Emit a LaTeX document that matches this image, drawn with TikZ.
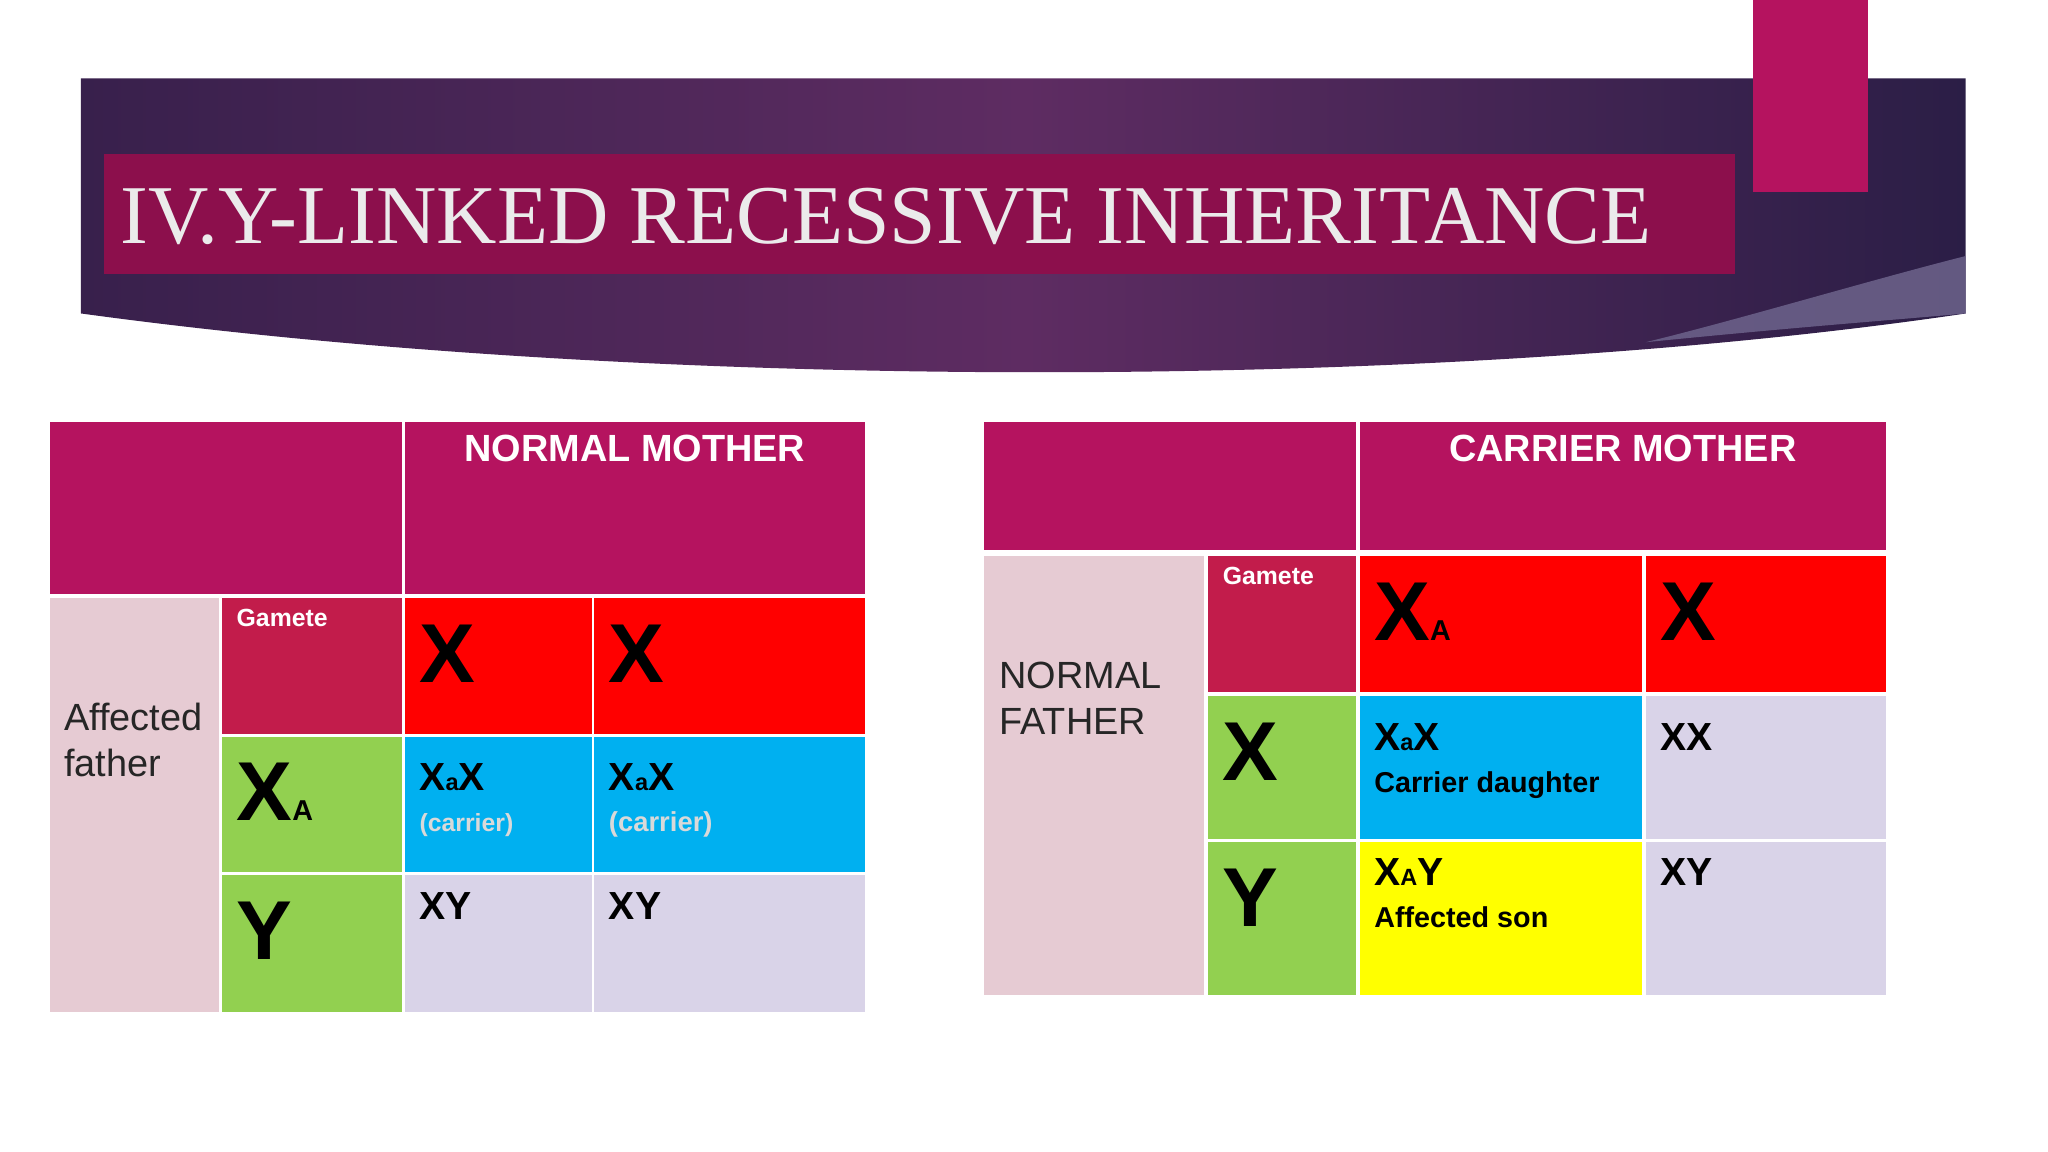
\documentclass[tikz,border=0pt]{standalone}
\usepackage{fontspec}
\setmainfont{Liberation Sans}
\newfontfamily\seriff{Liberation Serif}
\definecolor{mag}{HTML}{B5135F}
\definecolor{titlebg}{HTML}{8C0F4C}
\definecolor{gam}{HTML}{C21C4B}
\definecolor{redc}{HTML}{FF0000}
\definecolor{grn}{HTML}{92D050}
\definecolor{blu}{HTML}{00B0F0}
\definecolor{lav}{HTML}{D9D3E8}
\definecolor{pnk}{HTML}{E6CBD3}
\definecolor{yel}{HTML}{FFFF00}
\definecolor{banL}{HTML}{38204C}
\definecolor{banM}{HTML}{5E2C62}
\definecolor{banR}{HTML}{2B1E46}
\definecolor{sweep}{HTML}{6A6088}
\newcommand\fs[1]{\fontsize{#1}{#1}\selectfont}
\newcommand\cellbox[6]{\node[fill=#6,inner sep=0,outer sep=0,minimum width={(#4)-(#2)},minimum height={(#5)-(#3)}] (#1) at ({((#2)+(#4))/2},{((#3)+(#5))/2}) {};}
\tikzset{txt/.style={anchor=north west,inner sep=0,align=left,font=\bfseries},
 big/.style={txt,font=\bfseries\fs{64}},
 mid/.style={txt,font=\bfseries\fs{30}},
 head/.style={anchor=north,inner sep=0,text=white,font=\bfseries\fs{29}},
 side/.style={anchor=north west,inner sep=0,align=left,font=\fontsize{29}{35}\selectfont,text=black!85}}
\begin{document}
\begin{tikzpicture}[x=1pt,y=-1pt]
\useasboundingbox (0,0) rectangle (1568,882);
\fill[white] (0,0) rectangle (1568,882);
% banner
\shade[left color=banL, right color=banR, middle color=banM]
 (62,60) -- (1505,60) -- (1505,240) .. controls (1100,300) and (500,300) .. (62,240) -- cycle;
\fill[sweep, opacity=0.9] (1505,196) .. controls (1430,215) and (1330,245) .. (1260,262) .. controls (1380,250) and (1450,245) .. (1505,240) -- cycle;
\node[fill=titlebg,inner sep=0,minimum width=1248,minimum height=92] (title) at (704,164) {};
\node[anchor=west,text=white!92!black,inner sep=0,font=\seriff\fs{64}] (tt) at (92,166) {IV.Y-LINKED RECESSIVE INHERITANCE};
\node[fill=mag,inner sep=0,minimum width=88,minimum height=147] (tab) at (1386,73.5) {};
% left table
\cellbox{lh1}{38}{323}{308}{455}{mag}
\cellbox{lh2}{310}{323}{662}{455}{mag}
\node[head] at ([yshift=-10]lh2.north) {NORMAL MOTHER};
\cellbox{lf}{38}{458}{168}{775}{pnk}
\node[side] at ([shift={(11,80)}]lf.north west) {Affected\\father};
\cellbox{lg}{170}{458}{308}{562}{gam}
\node[txt,text=white,font=\bfseries\fs{19}] at ([shift={(11,8)}]lg.north west) {Gamete};
\cellbox{lx1}{310}{458}{453}{562}{redc}
\cellbox{lx2}{455}{458}{662}{562}{redc}
\node[big] at ([shift={(11,20)}]lx1.north west) {X};
\node[big] at ([shift={(11,20)}]lx2.north west) {X};
\cellbox{lxa}{170}{564}{308}{668}{grn}
\cellbox{ly}{170}{670}{308}{775}{grn}
\node[big] at ([shift={(11,20)}]lxa.north west) {X{\fs{22}A}};
\node[big] at ([shift={(11,20)}]ly.north west) {Y};
\cellbox{lb1}{310}{564}{453}{668}{blu}
\cellbox{lb2}{455}{564}{662}{668}{blu}
\node[mid] at ([shift={(11,20)}]lb1.north west) {X{\fs{18}a}X\\[2pt]{\fs{19}\bfseries\color{white!85!black}(carrier)}};
\node[mid] at ([shift={(11,20)}]lb2.north west) {X{\fs{18}a}X\\[2pt]{\fs{21}\bfseries\color{white!85!black}(carrier)}};
\cellbox{ll1}{310}{670}{453}{775}{lav}
\cellbox{ll2}{455}{670}{662}{775}{lav}
\node[mid] at ([shift={(11,13)}]ll1.north west) {XY};
\node[mid] at ([shift={(11,13)}]ll2.north west) {XY};
% right table
\cellbox{rh1}{753}{323}{1038}{421}{mag}
\cellbox{rh2}{1041}{323}{1444}{421}{mag}
\node[head] at ([yshift=-10]rh2.north) {CARRIER MOTHER};
\cellbox{rf}{753}{426}{922}{762}{pnk}
\node[side] at ([shift={(12,81)}]rf.north west) {NORMAL\\FATHER};
\cellbox{rg}{925}{426}{1038}{530}{gam}
\node[txt,text=white,font=\bfseries\fs{19}] at ([shift={(11,8)}]rg.north west) {Gamete};
\cellbox{rx1}{1041}{426}{1257}{530}{redc}
\cellbox{rx2}{1260}{426}{1444}{530}{redc}
\node[big] at ([shift={(11,20)}]rx1.north west) {X{\fs{22}A}};
\node[big] at ([shift={(11,20)}]rx2.north west) {X};
\cellbox{rgx}{925}{533}{1038}{642}{grn}
\cellbox{rgy}{925}{645}{1038}{762}{grn}
\node[big] at ([shift={(11,20)}]rgx.north west) {X};
\node[big] at ([shift={(11,20)}]rgy.north west) {Y};
\cellbox{rb}{1041}{533}{1257}{642}{blu}
\node[mid] at ([shift={(11,21)}]rb.north west) {X{\fs{18}a}X\\[2pt]{\fs{22}\bfseries Carrier daughter}};
\cellbox{rl1}{1260}{533}{1444}{642}{lav}
\node[mid] at ([shift={(11,21)}]rl1.north west) {XX};
\cellbox{ry}{1041}{645}{1257}{762}{yel}
\node[mid] at ([shift={(11,12)}]ry.north west) {X{\fs{18}A}Y\\[2pt]{\fs{22}\bfseries Affected son}};
\cellbox{rl2}{1260}{645}{1444}{762}{lav}
\node[mid] at ([shift={(11,12)}]rl2.north west) {XY};
\end{tikzpicture}
\end{document}
